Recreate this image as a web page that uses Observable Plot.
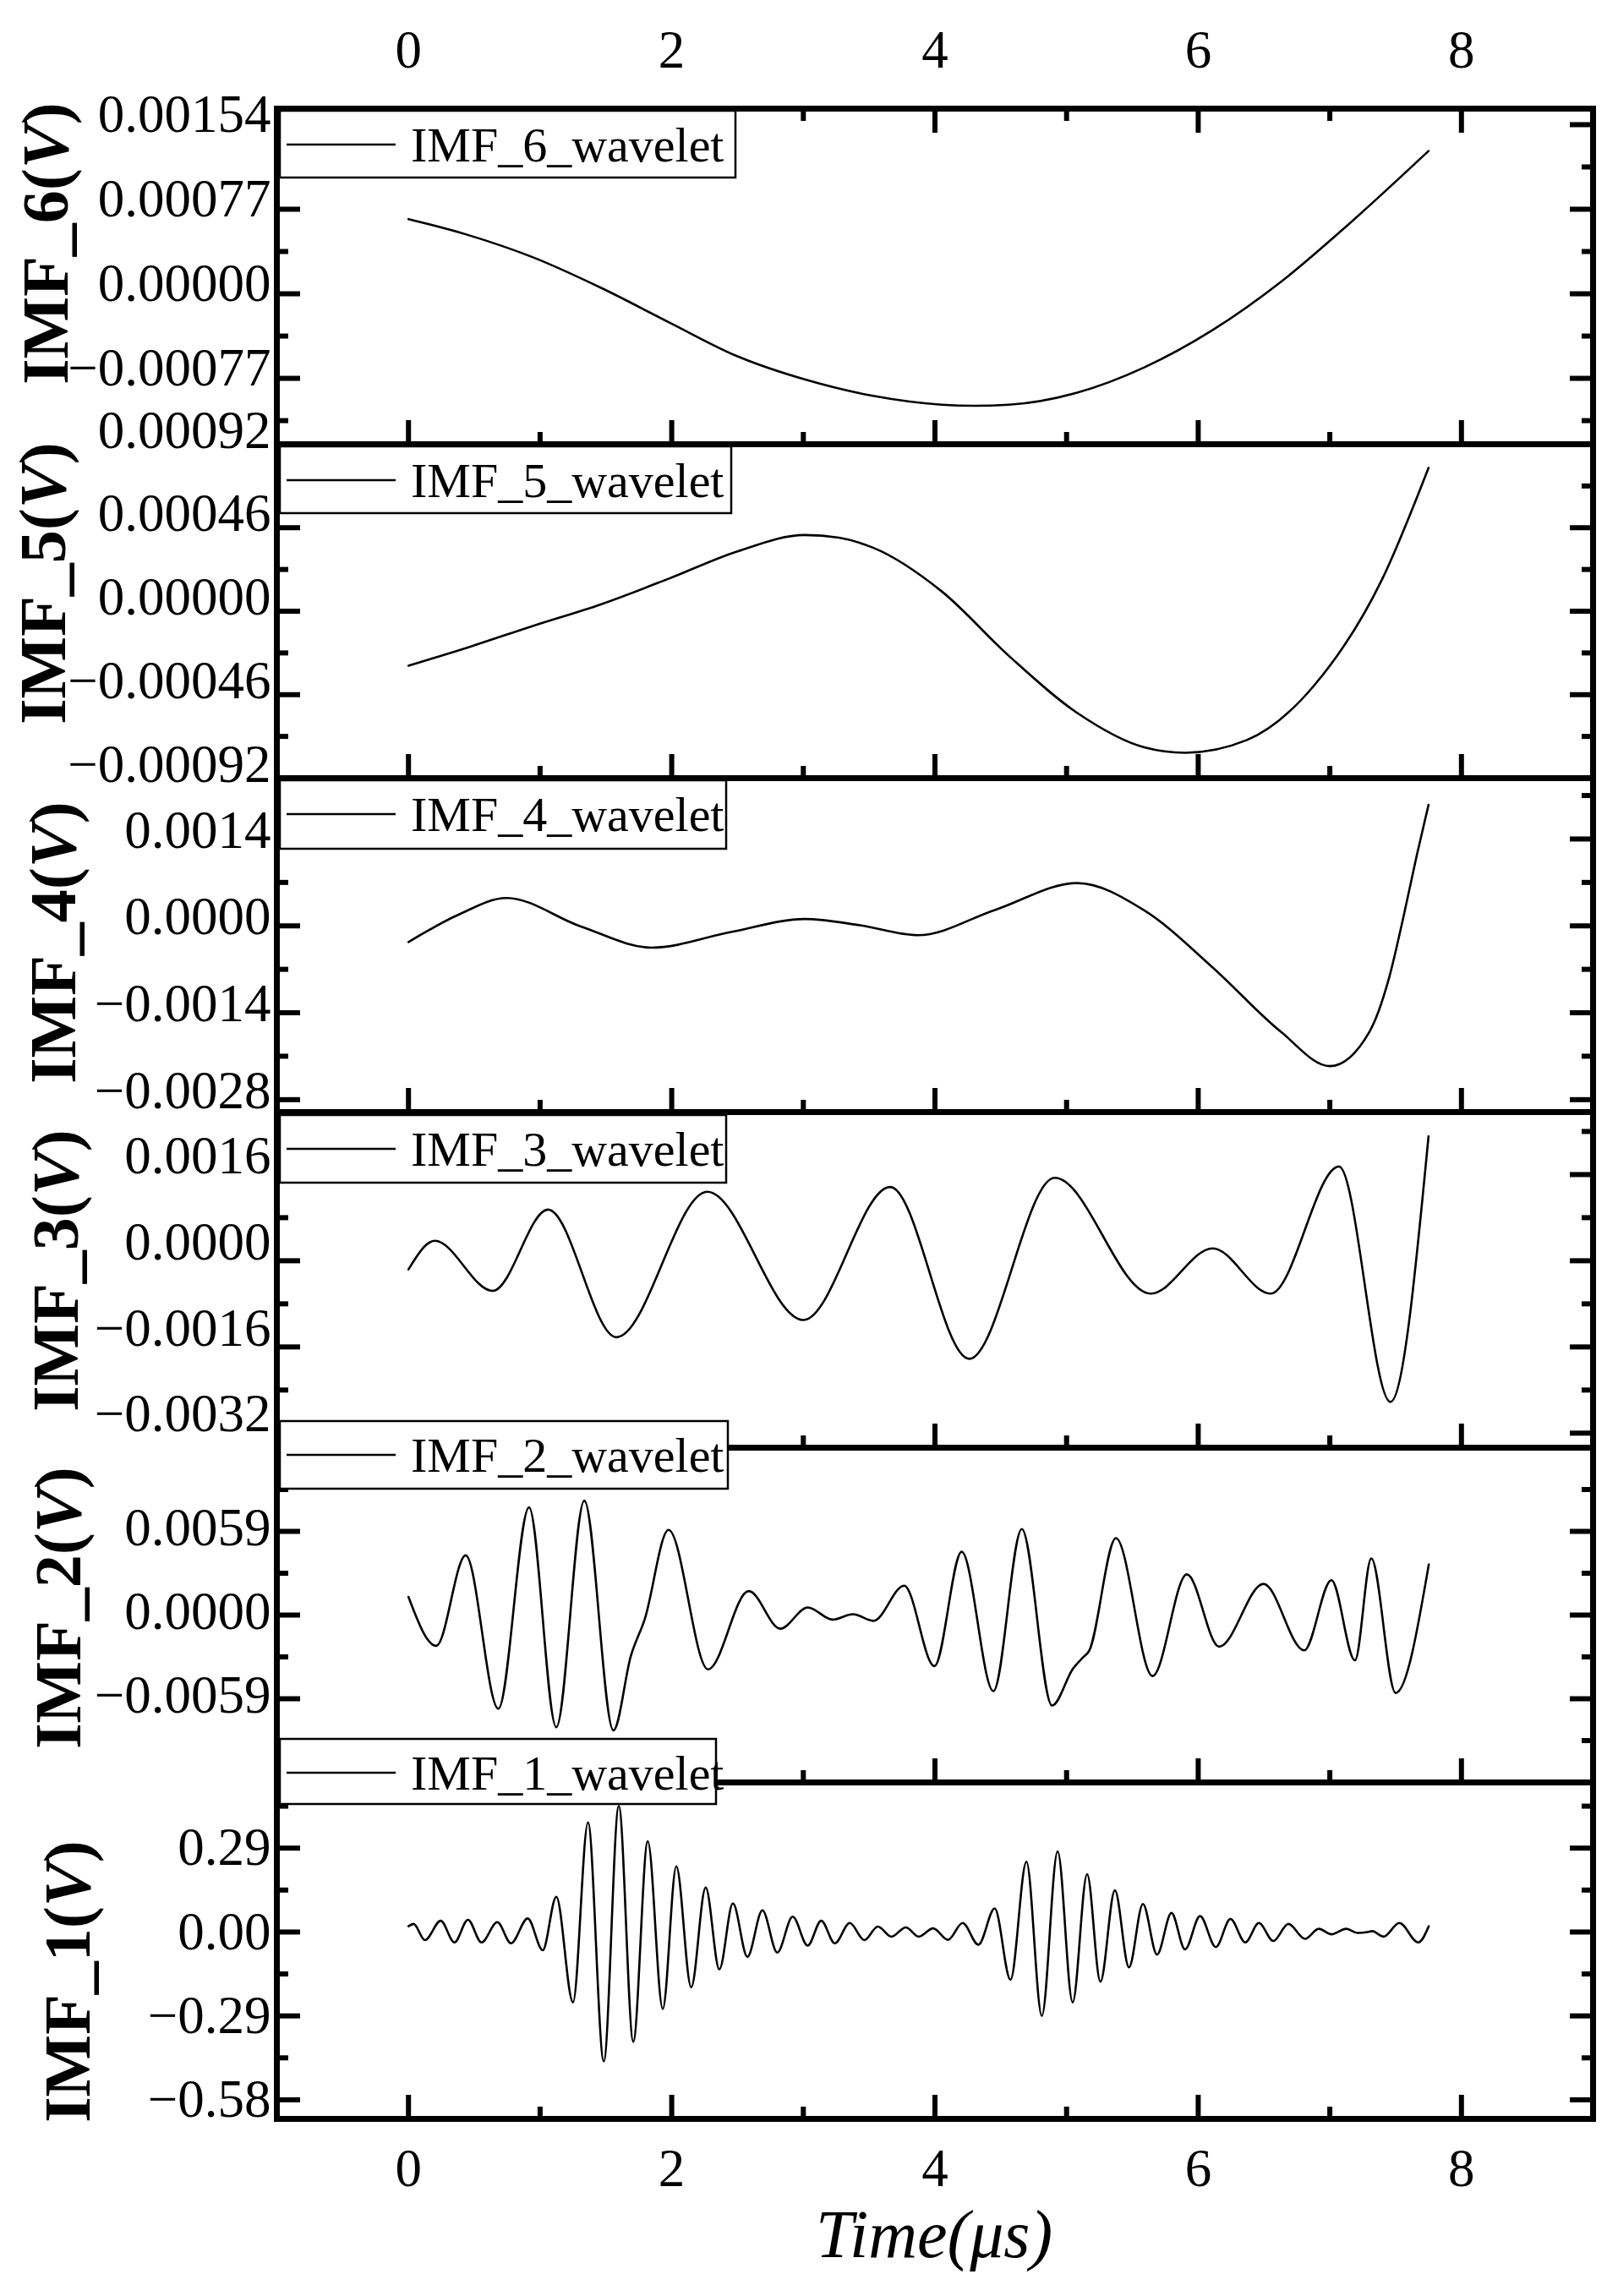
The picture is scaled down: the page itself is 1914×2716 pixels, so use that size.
<!DOCTYPE html>
<html><head><meta charset="utf-8">
<script src="https://cdn.jsdelivr.net/npm/d3@7"></script>
<script src="https://cdn.jsdelivr.net/npm/@observablehq/plot@0.6"></script>
<style>
html,body{margin:0;padding:0;background:#fff;overflow:hidden}
#fig{position:relative;width:1914px;height:2716px;font-family:"Liberation Serif","Times New Roman",serif;background:#fff}
#fig svg{position:absolute;left:0}
</style></head><body><div id="fig"></div>
<script>
// ---- x axis ----
const xMajor = [0, 2, 4, 6, 8];
const xMinor = [1, 3, 5, 7];
const xLabel = "Time(μs)";

// ---- IMF_6 ----
const imf6T = [0, 0.44, 0.95, 1.47, 1.98, 2.5, 3.01, 3.53, 4.05, 4.3, 4.56, 5.08, 5.59, 6.11, 6.63, 7.14, 7.75];
const imf6V = [0.00068, 0.00054, 0.00033, 0.00005, -0.00026, -0.00057, -0.00078, -0.00093, -0.00101, -0.00102, -0.00101, -0.00090, -0.00067, -0.00033, 0.00011, 0.00063, 0.00130];
const imf6Major = [0.00154, 0.00077, 0, -0.00077];
const imf6Minor = [0.001155, 0.000385, -0.000385, -0.001155];

// ---- IMF_5 ----
const imf5T = [0, 0.45, 0.95, 1.47, 1.98, 2.5, 3.01, 3.27, 3.53, 4.05, 4.56, 5.08, 5.59, 5.9, 6.37, 6.88, 7.4, 7.75];
const imf5V = [-0.00030, -0.00020, -0.00008, 0.00004, 0.00018, 0.00033, 0.00042, 0.000405, 0.00035, 0.00011, -0.000245, -0.00056, -0.00075, -0.00078, -0.00071, -0.00041, 0.00018, 0.00079];
const imf5Major = [0.00092, 0.00046, 0, -0.00046, -0.00092];
const imf5Minor = [0.00069, 0.00023, -0.00023, -0.00069];

// ---- IMF_4 ----
const imf4T = [0, 0.38, 0.744, 1.31, 1.85, 2.45, 3.01, 3.43, 3.87, 4.46, 5.08, 5.59, 6.11, 6.63, 7.0, 7.3, 7.45, 7.56, 7.66, 7.75];
const imf4V = [-0.00026, 0.00018, 0.00045, -0.00001, -0.00035, -0.00010, 0.00011, 0.00001, -0.00015, 0.00026, 0.00069, 0.00025, -0.00067, -0.00171, -0.00226, -0.00171, -0.00084, 0.00015, 0.00113, 0.00195];
const imf4Major = [0.0014, 0, -0.0014, -0.0028];
const imf4Minor = [0.0021, 0.0007, -0.0007, -0.0021];

// ---- IMF_3 ----
const imf3T = [0, 0.20, 0.64, 1.06, 1.58, 2.27, 3.00, 3.66, 4.26, 4.91, 5.64, 6.11, 6.55, 7.07, 7.46, 7.75];
const imf3V = [-0.00016, 0.00037, -0.00056, 0.00095, -0.00142, 0.00128, -0.00110, 0.00137, -0.00182, 0.00154, -0.00061, 0.00023, -0.00061, 0.00175, -0.00262, 0.00231];
const imf3Major = [0.0016, 0, -0.0016, -0.0032];
const imf3Minor = [0.0024, 0.0008, -0.0008, -0.0024];

// ---- IMF_2 ----
const imf2T = [0, 0.211, 0.435, 0.683, 0.916, 1.123, 1.336, 1.557, 1.69, 1.794, 1.976, 2.276, 2.585, 2.826, 3.033, 3.222, 3.377, 3.532, 3.766, 3.996, 4.203, 4.444, 4.66, 4.89, 5.05, 5.12, 5.17, 5.375, 5.653, 5.914, 6.159, 6.496, 6.805, 7.012, 7.191, 7.315, 7.50, 7.752];
const imf2V = [0.00128, -0.00217, 0.00421, -0.0066, 0.00759, -0.00791, 0.00807, -0.00813, -0.00287, -0.00032, 0.0060, -0.00383, 0.00169, -0.00096, 0.00054, -0.00032, 0.00006, -0.00041, 0.00207, -0.0036, 0.00446, -0.00536, 0.00606, -0.00638, -0.00376, -0.00303, -0.00255, 0.00542, -0.0043, 0.00287, -0.00223, 0.0022, -0.00249, 0.00246, -0.00319, 0.00399, -0.00549, 0.00357];
const imf2Major = [0.0059, 0, -0.0059];
const imf2Minor = [0.00885, 0.00295, -0.00295, -0.00885];

// ---- IMF_1 ----
const imf1T = [0, 0.039, 0.125, 0.245, 0.349, 0.452, 0.555, 0.675, 0.779, 0.906, 1.02, 1.123, 1.25, 1.364, 1.484, 1.598, 1.708, 1.818, 1.932, 2.035, 2.148, 2.258, 2.362, 2.465, 2.575, 2.689, 2.802, 2.919, 3.033, 3.136, 3.239, 3.353, 3.463, 3.566, 3.669, 3.779, 3.876, 3.986, 4.099, 4.21, 4.33, 4.454, 4.574, 4.695, 4.812, 4.932, 5.046, 5.156, 5.257, 5.367, 5.474, 5.58, 5.687, 5.797, 5.90, 6.014, 6.134, 6.245, 6.358, 6.461, 6.571, 6.685, 6.812, 6.916, 7.012, 7.125, 7.211, 7.287, 7.321, 7.408, 7.528, 7.672, 7.752];
const imf1V = [0.020, 0.028, -0.028, 0.039, -0.036, 0.042, -0.036, 0.034, -0.039, 0.047, -0.063, 0.122, -0.243, 0.379, -0.447, 0.436, -0.379, 0.314, -0.266, 0.227, -0.191, 0.154, -0.129, 0.099, -0.086, 0.075, -0.071, 0.053, -0.047, 0.039, -0.039, 0.031, -0.028, 0.019, -0.016, 0.016, -0.016, 0.0125, -0.027, 0.031, -0.044, 0.0815, -0.165, 0.243, -0.29, 0.279, -0.243, 0.20, -0.172, 0.144, -0.122, 0.097, -0.078, 0.066, -0.060, 0.055, -0.052, 0.045, -0.036, 0.031, -0.031, 0.028, -0.0235, 0.011, -0.008, 0.011, -0.003, 0.000, 0.003, -0.016, 0.031, -0.036, 0.020];
const imf1Major = [0.29, 0, -0.29, -0.58];
const imf1Minor = [0.435, 0.145, -0.145, -0.435];

// ---- panels (options built from the arrays above) ----
const names = ["IMF_6", "IMF_5", "IMF_4", "IMF_3", "IMF_2", "IMF_1"];
const panels = [
  {t: imf6T, v: imf6V, major: imf6Major, minor: imf6Minor, domain: [-0.00137, 0.001686], fmt: ".5f", dy: -12},
  {t: imf5T, v: imf5V, major: imf5Major, minor: imf5Minor, domain: [-0.00092, 0.00092], fmt: ".5f", dy: -16},
  {t: imf4T, v: imf4V, major: imf4Major, minor: imf4Minor, domain: [-0.0030, 0.00238], fmt: ".4f", dy: -10},
  {t: imf3T, v: imf3V, major: imf3Major, minor: imf3Minor, domain: [-0.00347, 0.00276], fmt: ".4f", dy: -22},
  {t: imf2T, v: imf2V, major: imf2Major, minor: imf2Minor, domain: [-0.0118, 0.0118], fmt: ".4f", dy: -4},
  {t: imf1T, v: imf1V, major: imf1Major, minor: imf1Minor, domain: [-0.646, 0.517], fmt: ".2f", dy: 0}
];

// layout (pixels)
const edges = [128, 525, 920, 1315, 1712, 2108, 2506];
const W = 1914, ML = 327, MR = 30;
const FONT = "Liberation Serif, Times New Roman, serif";
const fig = document.getElementById("fig");

panels.forEach((p, k) => {
  const top = edges[k], bottom = edges[k + 1];
  const mt = k === 0 ? 128 : 40;
  const mb = k === 5 ? 210 : 40;
  const data = p.t.map((t, j) => ({t, v: p.v[j]}));
  const fmt = d3.format(p.fmt);
  const marks = [
    Plot.line(data, {x: "t", y: "v", curve: "monotone-x", stroke: "black", strokeWidth: 2.6}),
    Plot.axisY({ticks: p.major, tickSize: -28, fill: "none", strokeWidth: 6, label: null}),
    Plot.axisY({ticks: p.minor, tickSize: -14, fill: "none", strokeWidth: 6, label: null}),
    Plot.axisY({anchor: "right", ticks: p.major, tickSize: -28, fill: "none", strokeWidth: 6, label: null}),
    Plot.axisY({anchor: "right", ticks: p.minor, tickSize: -14, fill: "none", strokeWidth: 6, label: null}),
    Plot.axisY({ticks: p.major, tickSize: 0, tickPadding: 7, tickFormat: fmt, stroke: "none", fontSize: 63, dy: p.dy, label: null}),
    Plot.axisX({ticks: xMajor, tickSize: -28, fill: "none", strokeWidth: 6, label: null}),
    Plot.axisX({ticks: xMinor, tickSize: -14, fill: "none", strokeWidth: 6, label: null})
  ];
  if (k === 0) {
    marks.push(
      Plot.axisX({anchor: "top", ticks: xMajor, tickSize: -28, fill: "none", strokeWidth: 6, label: null}),
      Plot.axisX({anchor: "top", ticks: xMinor, tickSize: -14, fill: "none", strokeWidth: 6, label: null}),
      Plot.axisX({anchor: "top", ticks: xMajor, tickSize: 0, tickPadding: 49, tickFormat: d3.format("d"), stroke: "none", fontSize: 63, label: null})
    );
  }
  if (k === 5) {
    marks.push(Plot.axisX({ticks: xMajor, tickSize: 0, tickPadding: 35, tickFormat: d3.format("d"), stroke: "none", fontSize: 63, label: null}));
  }
  marks.push(Plot.frame({stroke: "black", strokeWidth: 7}));
  const svg = Plot.plot({
    width: W, height: mt + (bottom - top) + mb,
    marginLeft: ML, marginRight: MR, marginTop: mt, marginBottom: mb,
    x: {domain: [-1, 9]},
    y: {domain: p.domain},
    style: {fontFamily: FONT, fontSize: "63px", background: "none", color: "black", overflow: "visible"},
    marks
  });
  svg.style.top = (top - mt) + "px";
  fig.appendChild(svg);
});

// ---- overlay: legends, y titles, x title ----
const ov = d3.create("svg").attr("width", W).attr("height", 2716).style("top", "0px")
  .attr("font-family", FONT);
const legTop = [131, 528, 923, 1319, 1681, 2057];
const legH = [79, 79, 81, 80, 80, 77];
const legRight = [870, 865, 859, 859, 861, 847];
names.forEach((n, k) => {
  const y0 = legTop[k];
  ov.append("rect").attr("x", 331).attr("y", y0).attr("width", legRight[k] - 331).attr("height", legH[k])
    .attr("fill", "white").attr("stroke", "black").attr("stroke-width", 2.5);
  ov.append("line").attr("x1", 339).attr("x2", 468).attr("y1", y0 + 40).attr("y2", y0 + 40)
    .attr("stroke", "black").attr("stroke-width", 2.5);
  ov.append("text").attr("x", 486).attr("y", y0 + 60).attr("font-size", 58).text(n + "_wavelet");
});
const titlePos = [[80, 288], [77, 690], [89, 1115], [92, 1503], [95, 1902], [106, 2344]];
names.forEach((n, k) => {
  const [x, y] = titlePos[k];
  const t = ov.append("text").attr("transform", `translate(${x},${y}) rotate(-90)`)
    .attr("text-anchor", "middle").attr("font-size", 78).attr("font-weight", "bold");
  t.append("tspan").text(n + "(");
  t.append("tspan").attr("font-style", "italic").text("V");
  t.append("tspan").text(")");
});
ov.append("text").attr("x", 1105).attr("y", 2670).attr("text-anchor", "middle")
  .attr("font-size", 80).attr("font-style", "italic").text(xLabel);
fig.appendChild(ov.node());
</script></body></html>
